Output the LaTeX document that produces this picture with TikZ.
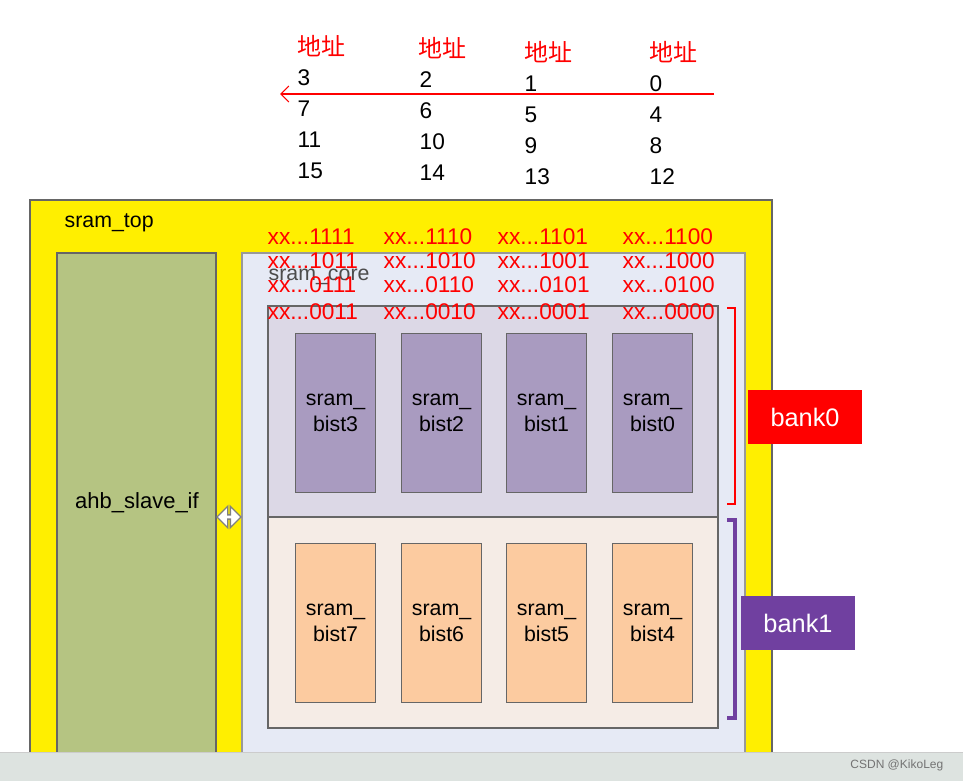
\documentclass[tikz,border=0pt]{standalone}
\usepackage{fontspec}
\setmainfont{Liberation Sans}
\newfontfamily\cjk{Noto Sans CJK SC}
\usetikzlibrary{shapes.arrows,arrows.meta}
\definecolor{ylw}{HTML}{FFEF00}
\definecolor{grn}{HTML}{B5C482}
\definecolor{core}{HTML}{E6EAF5}
\definecolor{bk0}{HTML}{DCD8E6}
\definecolor{bk1}{HTML}{F5ECE6}
\definecolor{pur}{HTML}{A99BC0}
\definecolor{org}{HTML}{FCCBA0}
\definecolor{bpur}{HTML}{7040A0}
\definecolor{bar}{HTML}{DDE3E0}
\begin{document}
\begin{tikzpicture}[x=0.75pt,y=-0.75pt,
  box/.style={draw=black!60,line width=0.8pt},
  bist/.style={box,fill=#1,minimum width=60pt,minimum height=119pt,align=center,font=\fontsize{16}{19}\selectfont,anchor=north west},
  addr/.style={red,font=\fontsize{17}{17}\selectfont,anchor=west},
  num/.style={black,font=\fontsize{17}{17}\selectfont,anchor=west},
  dz/.style={red,font=\cjk\fontsize{18}{18}\selectfont,anchor=west}]
\useasboundingbox (0,0) rectangle (963,781);
\fill[white] (0,0) rectangle (963,781);
\draw[box,fill=ylw] (30,200) rectangle (772,760);
\node[anchor=west,font=\fontsize{16}{16}\selectfont] (top) at (60,223) {sram\_top};
\draw[box,fill=grn] (57,253) rectangle (216,760);
\node[font=\fontsize{16.5}{16}\selectfont] (ahb) at (137,503) {ahb\_slave\_if};
\draw[box,draw=black!40,fill=core] (242,253) rectangle (745,760);
\node[anchor=west,black!70,font=\fontsize{16}{16}\selectfont] (core) at (264,277) {sram\_core};
\draw[box,fill=bk0] (268,306) rectangle (718,517);
\draw[box,fill=bk1] (268,517) rectangle (718,728);
\node[double arrow,draw=black!50,line width=1pt,fill=white,minimum width=16pt,double arrow head extend=2pt,minimum height=18pt,inner sep=0pt] (da) at (229,517) {};
\foreach \x/\n in {295/3,401/2,506/1,612/0}{
  \node[bist=pur] (b\n) at (\x,333) {sram\_\\bist\n};}
\foreach \x/\n in {295/7,401/6,506/5,612/4}{
  \node[bist=org] (b\n) at (\x,543) {sram\_\\bist\n};}
\draw[red,line width=2.2pt] (727,308) -- (735,308) -- (735,504) -- (727,504);
\node[fill=red,text=white,minimum width=85pt,minimum height=40pt,font=\fontsize{19}{20}\selectfont] (bank0) at (805,417) {bank0};
\draw[bpur,line width=2.6pt] (727,520) -- (735,520) -- (735,718) -- (727,718);
\node[fill=bpur,text=white,minimum width=86pt,minimum height=40pt,font=\fontsize{19}{20}\selectfont] (bank1) at (798,623) {bank1};
\foreach \y/\a/\b/\c/\d in {237/1111/1110/1101/1100,261/1011/1010/1001/1000,285/0111/0110/0101/0100,312/0011/0010/0001/0000}{
  \node[addr] at (263,\y) {xx...\a};
  \node[addr] at (379,\y) {xx...\b};
  \node[addr] at (493,\y) {xx...\c};
  \node[addr] at (618,\y) {xx...\d};}
\node[dz] (d3) at (293,46) {地址};
\node[dz] (d2) at (414,48) {地址};
\node[dz] (d1) at (520,52) {地址};
\node[dz] (d0) at (645,52) {地址};
\foreach \x/\y/\a/\b/\c/\d in {293/78/3/7/11/15,415/80/2/6/10/14,520/84/1/5/9/13,645/84/0/4/8/12}{
  \node[num] at (\x,\y) {\a};
  \node[num] at (\x,\y+31) {\b};
  \node[num] at (\x,\y+62) {\c};
  \node[num] at (\x,\y+93) {\d};}
\coordinate (as) at (714,94);
\coordinate (ae) at (280,94);
\draw[red,line width=0.8pt,-{Straight Barb[length=6pt]}] (as) -- (ae);
\fill[bar] (0,752) rectangle (963,781);
\draw[black!20] (0,752) -- (963,752);
\node[anchor=east,black!55,font=\fontsize{9}{10}\selectfont] (wm) at (948,765) {CSDN @KikoLeg};
\end{tikzpicture}
\end{document}
